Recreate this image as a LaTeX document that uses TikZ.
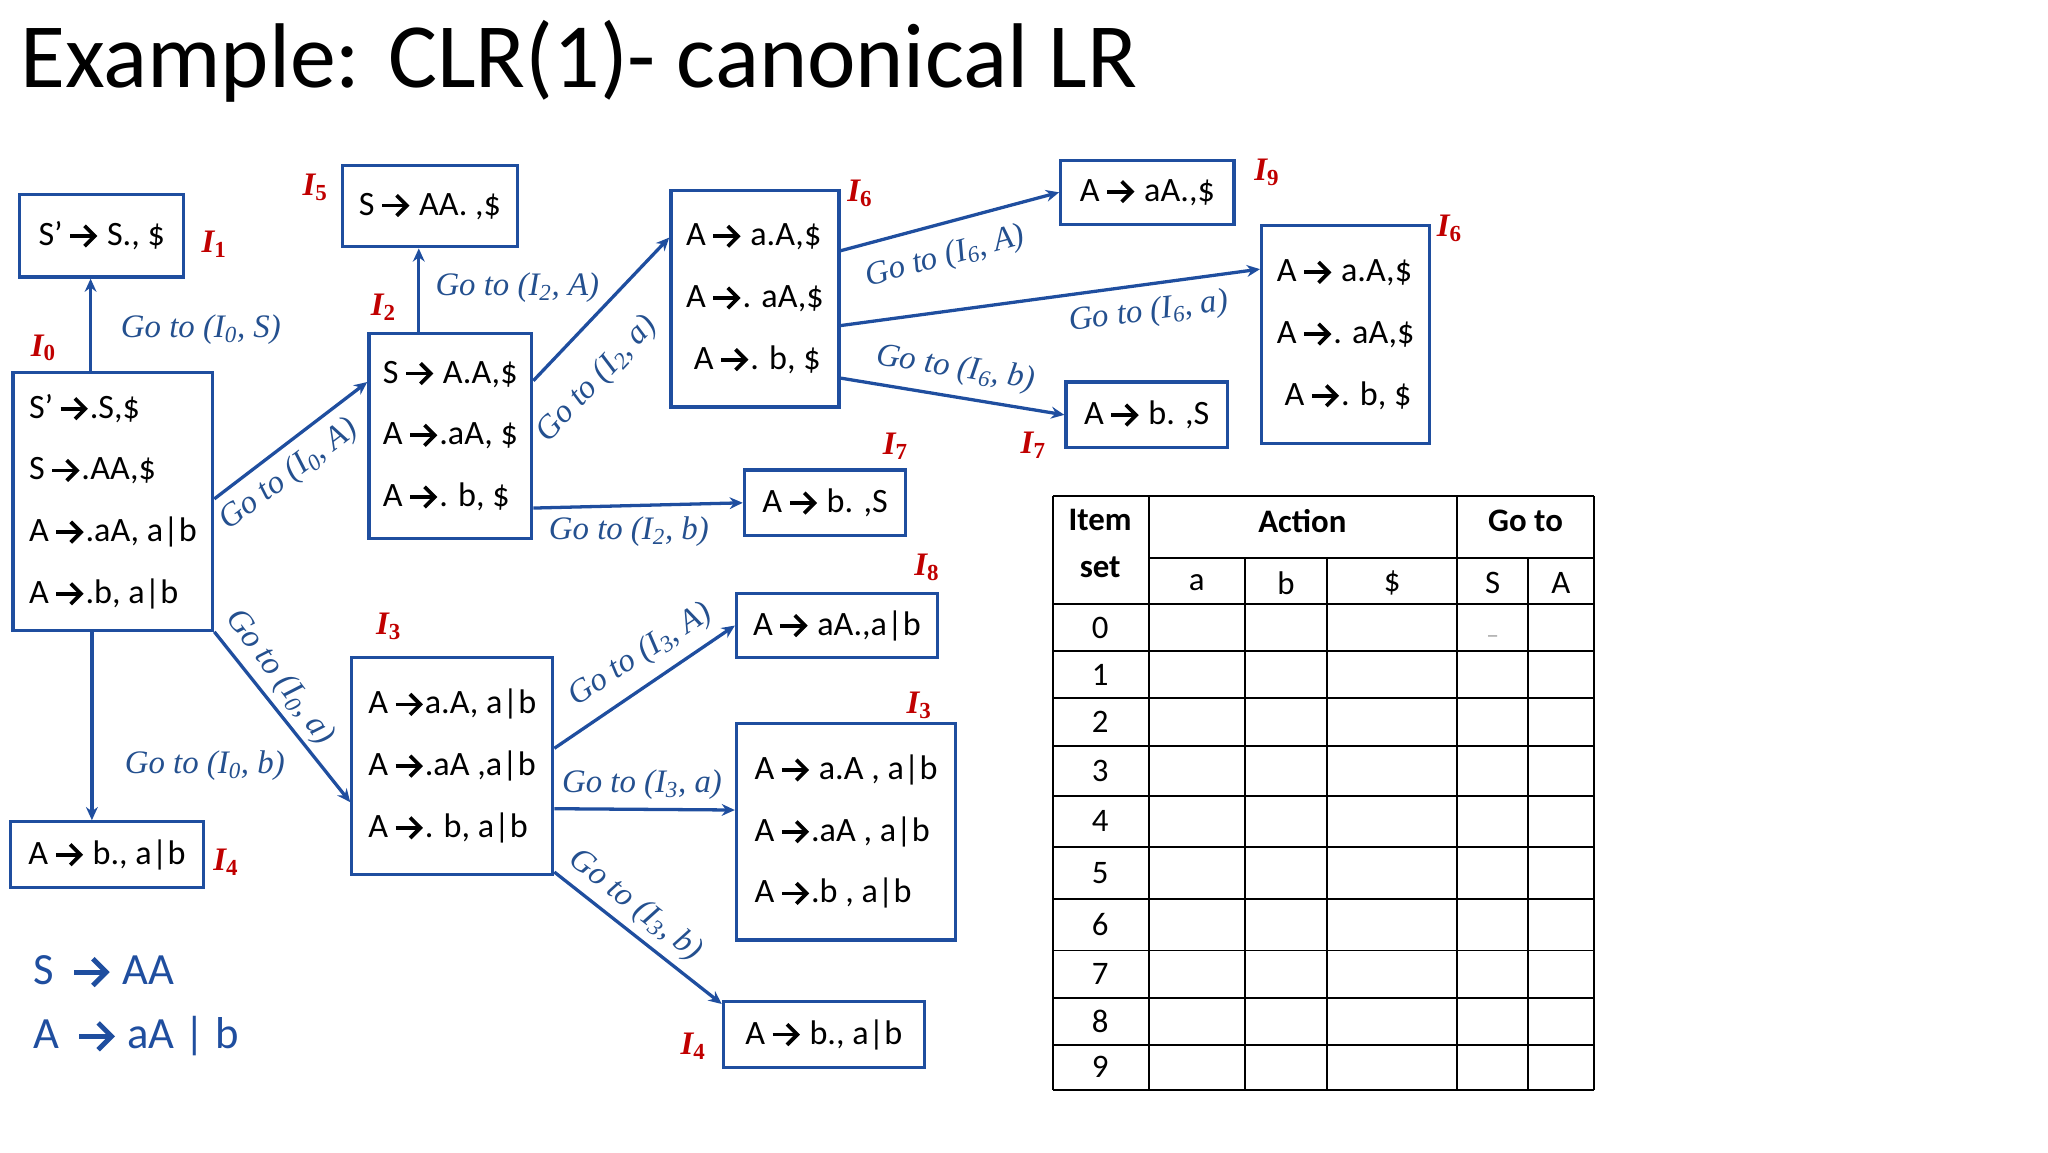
\documentclass[tikz,border=0pt]{standalone}
\usepackage{fontspec}
\setmainfont{Carlito}
\newfontfamily\serf{Liberation Serif}
\usetikzlibrary{arrows.meta}
\definecolor{bx}{HTML}{1F4E9F}
\definecolor{lb}{HTML}{24508F}
\definecolor{rd}{HTML}{C00000}
\newcommand{\ra}{\,\raisebox{1pt}{\tikz[baseline=-0.5ex]\draw[line width=0.11em,-{Straight Barb[length=0.3em,width=0.6em,line width=0.11em]}] (0,0)--(0.8em,0);}}
\newcommand{\lbl}[1]{{\serf\bfseries\itshape I}\textsubscript{\serf\bfseries #1}}
\newcommand{\gto}[2]{{\serf\itshape Go to (I\textsubscript{#1}, #2)}}
\begin{document}
\begin{tikzpicture}[x=1pt,y=-1pt,
  box/.style={draw=bx,line width=2.5pt,minimum width=#1,inner sep=0pt,font=\fontsize{26}{47}\selectfont,align=left},
  lab/.style={text=rd,font=\fontsize{25}{26}\selectfont},
  ar/.style={draw=bx,line width=2.5pt,-{Stealth[length=10pt,width=9pt]}},
  gt/.style={text=lb,font=\fontsize{25}{26}\selectfont},
  cell/.style={draw=black,line width=1.5pt}]
\useasboundingbox (0,0) rectangle (1560,878);
\node[anchor=base west,font=\fontsize{70}{80}\selectfont] (title) at (12,67) {Example: CLR(1)- canonical LR};
% boxes
\node[box=125pt,minimum height=63pt] (I1) at (77.5,179.5) {S’\ra\ S., \$};
\node[box=152pt,minimum height=196pt] (I0) at (86,382) {S’\ra.S,\$\\S\ra.AA,\$\\A\ra.aA, a|b\\A\ra.b, a|b};
\node[box=133pt,minimum height=62pt] (I5) at (327.5,157) {S\ra\ AA. ,\$};
\node[box=124pt,minimum height=156pt] (I2) at (343,332) {S\ra\ A.A,\$\\A\ra.aA, \$\\A\ra. b, \$};
\node[box=128pt,minimum height=165pt] (I6a) at (575,227.5) {A\ra\ a.A,\$\\A\ra. aA,\$\\\ A\ra. b, \$};
\node[box=132pt,minimum height=49pt] (I9) at (874,146.5) {A\ra\ aA.,\$};
\node[box=128pt,minimum height=166pt] (I6b) at (1025,255) {A\ra\ a.A,\$\\A\ra. aA,\$\\\ A\ra. b, \$};
\node[box=123pt,minimum height=50pt] (I7a) at (873.5,316) {A\ra\ b. ,S};
\node[box=123pt,minimum height=50pt] (I7b) at (628.5,383) {A\ra\ b. ,S};
\node[box=153pt,minimum height=49pt] (I8) at (637.5,476.5) {A\ra\ aA.,a|b};
\node[box=153pt,minimum height=165pt] (I3a) at (344.5,583.5) {A\ra a.A, a|b\\A\ra.aA ,a|b\\A\ra. b, a|b};
\node[box=167pt,minimum height=165pt] (I3b) at (644.5,633.5) {A\ra\ a.A , a|b\\A\ra.aA , a|b\\A\ra.b , a|b};
\node[box=147pt,minimum height=50pt] (I4a) at (81.5,651) {A\ra\ b., a|b};
\node[box=153pt,minimum height=50pt] (I4b) at (627.5,788) {A\ra\ b., a|b};
% red labels
\node[lab] (l1) at (163,186) {\lbl{1}};
\node[lab] (l0) at (33,265) {\lbl{0}};
\node[lab] (l5) at (240,143) {\lbl{5}};
\node[lab] (l2) at (292,234) {\lbl{2}};
\node[lab] (l6a) at (655,147) {\lbl{6}};
\node[lab] (l9) at (965,131) {\lbl{9}};
\node[lab] (l6b) at (1104,174) {\lbl{6}};
\node[lab] (l7a) at (787,339) {\lbl{7}};
\node[lab] (l7b) at (682,340) {\lbl{7}};
\node[lab] (l8) at (706,432) {\lbl{8}};
\node[lab] (l3a) at (296,477) {\lbl{3}};
\node[lab] (l3b) at (700,537) {\lbl{3}};
\node[lab] (l4a) at (172,657) {\lbl{4}};
\node[lab] (l4b) at (528,797) {\lbl{4}};
% arrows
\draw[ar] ([xshift=-17pt]I0.north) -- ([xshift=-17pt]I0.north |- I1.south);
\draw[ar] ([yshift=2pt]I0.east) -- ([yshift=41pt]I2.west);
\draw[ar] (I0.south east) -- ([yshift=-27.5pt]I3a.west);
\draw[ar] ([xshift=-16pt]I0.south) -- ([xshift=-16pt]I0.south |- I4a.north);
\draw[ar] ([xshift=-24pt]I2.north) -- ([xshift=-24pt]I2.north |- I5.south);
\draw[ar] ([yshift=42pt]I2.east) -- ([yshift=46.5pt]I6a.west);
\draw[ar] ([yshift=-55pt]I2.east) -- (I7b.west);
\draw[ar] ([yshift=36.5pt]I6a.east) -- (I9.west);
\draw[ar] ([yshift=-20.5pt]I6a.east) -- ([yshift=50pt]I6b.west);
\draw[ar] ([yshift=-60.5pt]I6a.east) -- (I7a.west);
\draw[ar] ([yshift=13.5pt]I3a.east) -- (I8.west);
\draw[ar] ([yshift=-32.5pt]I3a.east) -- ([yshift=16.5pt]I3b.west);
\draw[ar] ([yshift=3pt]I3a.south east) -- ([yshift=-3pt]I4b.north west);
% goto labels
\node[gt] (g1) at (153,251) {\gto{0}{S}};
\node[gt,rotate=37] (g2) at (220,362) {\gto{0}{A}};
\node[gt,rotate=-53] (g3) at (213,516) {\gto{0}{a}};
\node[gt] (g4) at (156,583) {\gto{0}{b}};
\node[gt] (g5) at (394,219) {\gto{2}{A}};
\node[gt,rotate=47] (g6) at (455,289) {\gto{2}{a}};
\node[gt] (g7) at (479,405) {\gto{2}{b}};
\node[gt,rotate=15] (g8) at (720,196) {\gto{6}{A}};
\node[gt,rotate=7] (g9) at (875,238) {\gto{6}{a}};
\node[gt,rotate=-9] (g10) at (728,281) {\gto{6}{b}};
\node[gt,rotate=33] (g11) at (488,499) {\gto{3}{A}};
\node[gt] (g12) at (489,598) {\gto{3}{a}};
\node[gt,rotate=-38] (g13) at (484,690) {\gto{3}{b}};
% grammar
\node[anchor=west,text=bx,font=\fontsize{34}{40}\selectfont] (gr1) at (22,740) {S \ra\ AA};
\node[anchor=west,text=bx,font=\fontsize{34}{40}\selectfont] (gr2) at (22,789) {A \ra\ aA | b};
% table
\foreach \x in {802,875,1110,1214} \draw[cell] (\x,378) -- (\x,830);
\foreach \x in {948,1011,1164} \draw[cell] (\x,425) -- (\x,830);
\draw[cell] (802,378) -- (1214,378);
\draw[cell] (875,425) -- (1214,425);
\foreach \y in {460,496,532,568,606,645,685,724,760,796,830} \draw[cell] (802,\y) -- (1214,\y);
\node[font=\bfseries\fontsize{25}{36}\selectfont,align=center] (it) at (838,414) {Item\\set};
\node[font=\bfseries\fontsize{25}{30}\selectfont] (ac) at (992,397) {Action};
\node[font=\bfseries\fontsize{25}{30}\selectfont] (go) at (1162,397) {Go to};
\foreach \t/\x in {a/911.5,b/979.5,\$/1060.5,S/1137,A/1189}
  \node[font=\fontsize{25}{30}\selectfont] at (\x,444) {\t};
\foreach \n/\y in {0/478,1/514,2/550,3/587,4/625.5,5/665,6/704.5,7/742,8/778,9/813}
  \node[font=\fontsize{25}{30}\selectfont] at (838,\y) {\n};
\node[font=\fontsize{14}{16}\selectfont,text=gray] (dash) at (1137,484) {\_};
\end{tikzpicture}
\end{document}
